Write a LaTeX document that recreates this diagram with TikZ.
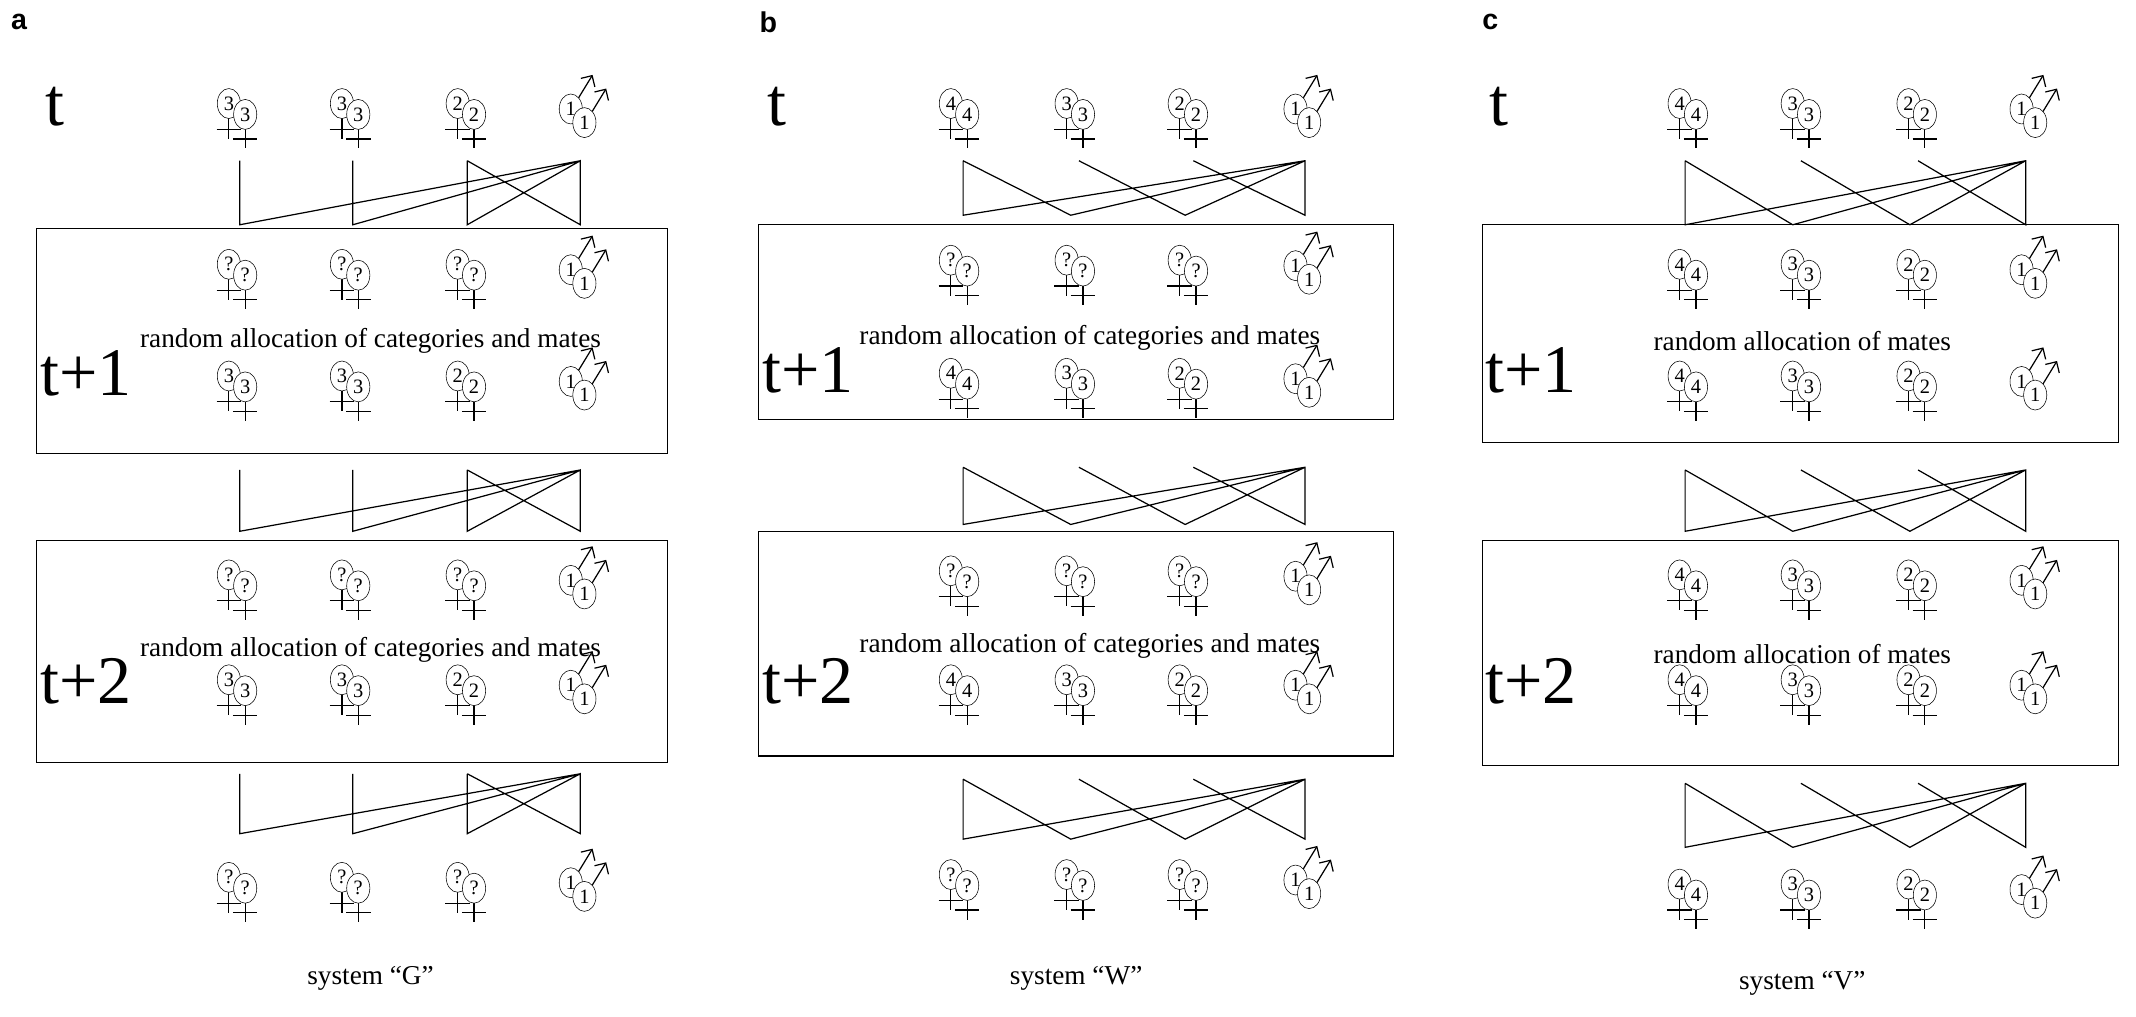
\documentclass[tikz,border=0pt]{standalone}
\usepackage{fontspec}
\setmainfont{Liberation Serif}
\newfontfamily\sansb{Liberation Sans}
\usetikzlibrary{shapes.geometric,arrows.meta}
\begin{document}
\begin{tikzpicture}[x=1pt,y=-1pt,
  sym/.style={draw,ellipse,minimum width=17pt,minimum height=22pt,inner sep=0pt,fill=white,font=\fontsize{15}{15}\selectfont},
  ln/.style={line width=0.9pt},
  lab/.style={font=\fontsize{50}{50}\selectfont,anchor=west},
  txt/.style={font=\fontsize{20}{20}\selectfont},
  plab/.style={font=\sansb\bfseries\fontsize{21}{21}\selectfont},
  box/.style={draw,line width=0.9pt}]
\useasboundingbox (0,0) rectangle (1568,746);
\newcommand\femp[4]{%
  \draw[ln] ({#1-7},{#2-4}) -- ++(0,26) ({#1-16},{#2+15}) -- ++(18,0);
  \node[sym] at ({#1-7},{#2-4}) {#3};
  \draw[ln] ({#1+5},{#2+4}) -- ++(0,25) ({#1-4},{#2+22}) -- ++(18,0);
  \node[sym] at ({#1+5},{#2+4}) {#4};}
\newcommand\malp[2]{%
  \draw[ln,-{Straight Barb[length=6pt]}] ({#1-1},{#2-9}) -- ++(11,-18);
  \node[sym] at ({#1-6},{#2-2}) {1};
  \draw[ln,-{Straight Barb[length=6pt]}] ({#1+9},{#2+1}) -- ++(11,-18);
  \node[sym] at ({#1+4},{#2+8}) {1};}
\newcommand\conG[6]{%
  \coordinate (A1) at (#1,#5); \coordinate (B1) at (#1,#6);
  \coordinate (A2) at (#2,#5); \coordinate (B2) at (#2,#6);
  \coordinate (A3) at (#3,#5); \coordinate (B3) at (#3,#6);
  \coordinate (A4) at (#4,#5); \coordinate (B4) at (#4,#6);
  \draw[ln] (A1) -- (B1) -- (A4) (A2) -- (B2) -- (A4) (A3) -- (B3) -- (A4) -- (B4) -- (A3);}
\newcommand\conW[6]{%
  \coordinate (A1) at (#1,#5); \coordinate (B1) at (#1,#6);
  \coordinate (A2) at (#2,#5); \coordinate (B2) at ({#2-6},#6);
  \coordinate (A3) at (#3,#5); \coordinate (B3) at ({#3-6},#6);
  \coordinate (A4) at (#4,#5); \coordinate (B4) at (#4,#6);
  \draw[ln] (A1) -- (B1) -- (A4) -- (B4) -- (A3) (A1) -- (B2) -- (A4) (A2) -- (B3) -- (A4);}
% ---------- panel a
\node[plab] (la) at (14,16) {a};
\node[lab] (ta) at (30,78) {t};
\femp{175}{80}{3}{3}\femp{258}{80}{3}{3}\femp{343}{80}{2}{2}\malp{425}{82}
\conG{176}{259}{343}{426}{118}{165}
\draw[box] (27,168) rectangle (490,333);
\femp{175}{198}{?}{?}\femp{258}{198}{?}{?}\femp{343}{198}{?}{?}\malp{425}{200}
\node[txt] (ra1) at (272,250) {random allocation of categories and mates};
\node[lab] (t1a) at (26,274) {t+1};
\femp{175}{280}{3}{3}\femp{258}{280}{3}{3}\femp{343}{280}{2}{2}\malp{425}{282}
\conG{176}{259}{343}{426}{345}{390}
\draw[box] (27,397) rectangle (490,560);
\femp{175}{426}{?}{?}\femp{258}{426}{?}{?}\femp{343}{426}{?}{?}\malp{425}{428}
\node[txt] (ra2) at (272,477) {random allocation of categories and mates};
\node[lab] (t2a) at (26,500) {t+2};
\femp{175}{503}{3}{3}\femp{258}{503}{3}{3}\femp{343}{503}{2}{2}\malp{425}{505}
\conG{176}{259}{343}{426}{568}{612}
\femp{175}{648}{?}{?}\femp{258}{648}{?}{?}\femp{343}{648}{?}{?}\malp{425}{650}
\node[txt] (sa) at (272,718) {system “G”};
% ---------- panel b
\node[plab] (lb) at (564,16) {b};
\node[lab] (tb) at (560,78) {t};
\femp{705}{80}{4}{4}\femp{790}{80}{3}{3}\femp{873}{80}{2}{2}\malp{957}{82}
\conW{707}{792}{876}{958}{118}{158}
\draw[box] (557,165) rectangle (1023,308);
\femp{705}{195}{?}{?}\femp{790}{195}{?}{?}\femp{873}{195}{?}{?}\malp{957}{197}
\node[txt] (rb1) at (800,248) {random allocation of categories and mates};
\node[lab] (t1b) at (556,272) {t+1};
\femp{705}{278}{4}{4}\femp{790}{278}{3}{3}\femp{873}{278}{2}{2}\malp{957}{280}
\conW{707}{792}{876}{958}{343}{385}
\draw[box] (557,390) rectangle (1023,555);
\femp{705}{423}{?}{?}\femp{790}{423}{?}{?}\femp{873}{423}{?}{?}\malp{957}{425}
\node[txt] (rb2) at (800,474) {random allocation of categories and mates};
\node[lab] (t2b) at (556,500) {t+2};
\femp{705}{503}{4}{4}\femp{790}{503}{3}{3}\femp{873}{503}{2}{2}\malp{957}{505}
\conW{707}{792}{876}{958}{572}{616}
\femp{705}{646}{?}{?}\femp{790}{646}{?}{?}\femp{873}{646}{?}{?}\malp{957}{648}
\node[txt] (sb) at (790,718) {system “W”};
% ---------- panel c
\node[plab] (lc) at (1094,16) {c};
\node[lab] (tc) at (1090,78) {t};
\femp{1240}{80}{4}{4}\femp{1323}{80}{3}{3}\femp{1408}{80}{2}{2}\malp{1490}{82}
\conW{1237}{1322}{1408}{1487}{118}{165}
\draw[box] (1088,165) rectangle (1555,325);
\femp{1240}{198}{4}{4}\femp{1323}{198}{3}{3}\femp{1408}{198}{2}{2}\malp{1490}{200}
\node[txt] (rc1) at (1323,250) {random allocation of mates};
\node[lab] (t1c) at (1087,272) {t+1};
\femp{1240}{280}{4}{4}\femp{1323}{280}{3}{3}\femp{1408}{280}{2}{2}\malp{1490}{282}
\conW{1237}{1322}{1408}{1487}{345}{390}
\draw[box] (1088,397) rectangle (1555,562);
\femp{1240}{426}{4}{4}\femp{1323}{426}{3}{3}\femp{1408}{426}{2}{2}\malp{1490}{428}
\node[txt] (rc2) at (1323,480) {random allocation of mates};
\node[lab] (t2c) at (1087,500) {t+2};
\femp{1240}{503}{4}{4}\femp{1323}{503}{3}{3}\femp{1408}{503}{2}{2}\malp{1490}{505}
\conW{1237}{1322}{1408}{1487}{575}{622}
\femp{1240}{653}{4}{4}\femp{1323}{653}{3}{3}\femp{1408}{653}{2}{2}\malp{1490}{655}
\node[txt] (sc) at (1323,722) {system “V”};
\end{tikzpicture}
\end{document}
